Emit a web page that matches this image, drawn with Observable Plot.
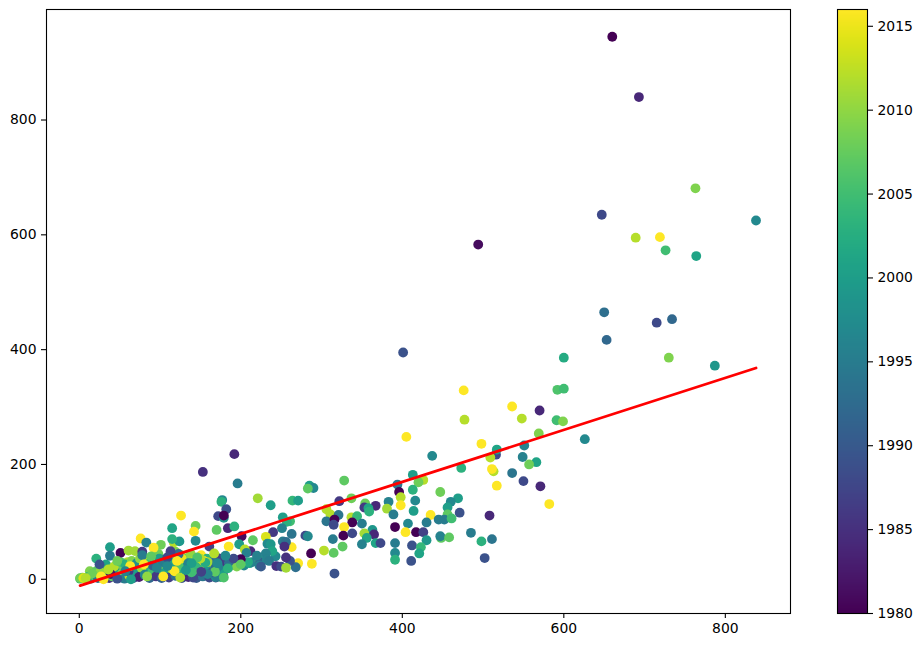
<!DOCTYPE html>
<html>
<head>
<meta charset="utf-8">
<script src="https://cdn.jsdelivr.net/npm/d3@7"></script>
<script src="https://cdn.jsdelivr.net/npm/@observablehq/plot@0.6"></script>
<style>
  html, body { margin: 0; padding: 0; background: #fff; }
  #chart { display: flex; width: 922px; height: 647px; }
</style>
</head>
<body>
<div id="chart"></div>
<script>
const xs = [
  13,17,21,24,29,32,35,40,43,46,
  48,52,55,58,60,64,67,69,73,76,
  79,82,85,88,90,93,96,98,101,104,
  107,109,112,114,116,119,121,124,126,129,
  130,133,136,138,140,143,145,148,151,152,
  155,158,160,163,166,169,172,176,178,182,
  174,188,167,193,162,175,204,169,211,214,
  177,223,165,149,224,
  4,1,7,11,14,19,23,26,31,34,
  37,41,44,49,53,56,59,62,67,71,
  74,77,81,87,91,95,99,102,105,111,
  115,119,123,127,131,135,137,141,145,149,
  153,157,161,165,169,174,177,175,171,177,
  27,33,43,51,57,65,71,83,87,99,
  103,111,117,127,135,147,91,75,61,39,
  169,209,159,164,243,195,185,175,159,123,
  660,693,763,647,838,689,719,726,764,650,
  715,734,653,730,787,600,401,494,592,600,
  476,477,536,570,548,591,599,569,405,626,
  498,551,437,549,516,517,509,566,557,473,
  513,511,536,550,571,517,582,508,413,426,
  420,394,328,396,413,398,447,469,460,416,
  383,398,381,414,389,456,471,435,456,445,
  452,461,430,407,391,404,417,426,485,448,
  447,458,430,511,498,391,412,423,421,391,
  391,411,502,306,311,322,337,354,353,367,
  358,359,321,337,344,306,316,315,338,350,
  328,327,338,363,353,365,356,350,367,373,
  314,326,315,303,287,288,316,271,268,261,
  280,283,263,263,285,290,283,264,271,261,
  221,237,177,176,182,172,179,179,144,142,
  170,184,192,252,257,251,240,231,215,201,
  198,233,237,252,256,254,144,161,185,239,
  231,212,205,207,167,220,200,191,181,256,
  232,235,223,225,244,250,256,200,184,172,
  179,168,159,151,141,139,154,156,150,146,
  139,171,192,153,196,126,115,101,76,83,
  92,117,124,115,38,51,38,21,25,61,
  69,78,78,47,36,16,1,5,8,27,
  30,47,64,84,104,118,125,89,113,109,
  121,132,63,57,80,96,109
];
const ys = [
  14,4,14,10,18,8,20,14,7,19,
  26,14,22,8,30,14,24,8,20,10,
  32,18,12,36,8,30,12,44,18,34,
  14,28,8,36,12,48,22,10,42,24,
  6,36,14,44,20,32,10,26,42,6,
  18,36,14,24,6,40,10,22,8,28,
  30,24,18,34,4,4,24,3,28,30,
  24,34,30,18,30,
  3,1,2,4,1,6,2,8,3,12,
  2,5,15,3,10,1,18,6,2,12,
  4,20,8,2,14,5,25,2,10,3,
  18,6,24,2,11,4,20,8,2,16,
  5,22,3,10,4,14,6,10,5,14,
  14,26,22,30,26,32,28,34,28,36,
  30,40,30,36,28,24,24,36,14,9,
  18,30,16,12,40,22,30,36,30,44,
  945,840,681,635,625,595,596,573,563,465,
  447,453,417,386,372,386,395,583,330,332,
  329,278,301,294,280,277,275,254,248,244,
  236,233,215,213,217,226,212,204,200,194,
  188,192,185,171,162,163,131,111,182,173,
  169,165,172,152,156,143,152,141,135,137,
  135,129,123,119,113,125,116,112,113,104,
  104,106,99,97,91,82,82,82,81,72,
  75,73,68,70,66,63,59,56,45,46,
  34,32,37,122,113,136,141,132,125,128,
  124,118,112,108,110,101,104,95,99,97,
  91,76,80,86,80,78,72,61,63,63,
  70,57,46,50,45,27,10,28,21,32,
  76,75,79,56,163,159,158,137,137,101,
  141,129,138,135,122,110,107,111,93,83,
  86,89,92,108,100,89,82,74,68,75,
  61,62,61,66,65,57,67,57,57,49,
  45,49,52,46,45,41,35,36,41,38,
  34,32,24,22,23,22,20,26,19,22,
  3,13,9,13,3,12,32,29,36,38,
  28,28,218,187,167,111,89,60,71,64,
  55,64,66,70,56,46,41,36,26,50,
  49,48,42,32,17,10,2,2,2,5,
  0,1,0,5,5,14,3,40,49,38,
  32,16,23,14,26,20,23
];
const years = [
  2009,2012,2007,2011,2008,2013,2007,2012,2004,2010,
  2011,2005,2008,2000,2012,2008,2003,2016,2013,1999,
  2007,2005,2002,2011,1994,2016,2009,2008,2006,2002,
  1998,2012,1990,2004,1997,2009,2008,2003,2012,1999,
  1986,2007,2016,2010,1993,2013,2000,2006,2016,1985,
  2009,2003,1991,2016,1984,2008,1995,2012,1988,2005,
  2001,2009,1986,2002,1990,2004,1997,1988,2001,1996,
  1986,2003,1993,2000,1990,
  2008,2005,2012,2003,1997,2006,1994,2010,1990,2002,
  1985,2007,1998,1981,2009,1995,2004,2013,1988,2000,
  1983,2011,1996,1992,2005,1986,2008,1991,2001,1987,
  2012,1993,2006,1989,2003,1984,2009,1999,1990,2007,
  1994,2014,1988,2002,1997,2010,1992,2005,1995,2000,
  2010,2001,2012,2006,2003,2009,1998,2012,2005,2000,
  1995,2008,2001,2015,1996,2004,1991,2010,1986,1982,
  1992,2002,1999,1990,1997,2009,1993,1987,2011,1992,
  1980,1984,2009,1988,1997,2012,2016,2005,2001,1993,
  1988,1992,1992,2009,1999,2002,1989,1981,2006,2005,
  2016,2012,2016,1984,2012,2005,2009,2009,2016,1997,
  2016,1996,1997,1996,1988,2001,2012,2001,2008,2003,
  2012,2016,1994,1988,1984,2016,2016,1984,2000,2012,
  2008,1994,2007,1980,2003,2012,2008,2000,1997,1997,
  1996,2016,2011,2000,1995,2000,1989,2016,2007,1995,
  1995,2005,1995,1997,1980,2016,1980,1987,1995,2007,
  1996,2007,1999,1994,2003,1995,1989,2004,2001,1997,
  2003,1989,1989,2012,2012,1986,2008,2008,1986,1984,
  2001,2003,1994,2012,2004,1994,1980,1988,1980,1995,
  2016,1980,1988,1999,2011,1984,2001,1996,2001,1988,
  1995,2007,2007,2012,1980,2016,1989,2016,1993,1989,
  1988,1997,1994,2016,2000,1997,2007,2004,2000,2005,
  2011,2000,1997,2003,1989,1988,1999,1980,2008,2016,
  2007,1984,2003,2000,2003,1996,1986,2014,2007,1981,
  2000,1997,1999,1995,1993,1985,1997,1987,2016,2001,
  1996,1984,2012,1996,2012,1996,1980,1988,1997,1985,
  1996,1995,1996,1990,1985,1988,2011,2007,2003,1996,
  2006,2007,1996,1987,1988,2005,2016,2002,2012,2006,
  2000,1997,1984,1985,1995,2016,2001,2008,2016,1996,
  2016,2012,1999,2003,2000,1980,1995,2003,1989,2011,
  2011,1986,1995,2008,2012,2008,2008,2014,2012,2016,
  2016,1989,2000,2010,2016,2016,2012,2007,1987,1988,
  2016,1999,2016,1996,2016,1996,1997
];
const fitX = [1, 838];
const fitY = [-11, 368];
const xTicks = [0, 200, 400, 600, 800];
const yTicks = [0, 200, 400, 600, 800];
const yearTicks = [1980, 1985, 1990, 1995, 2000, 2005, 2010, 2015];
const yearDomain = [1980, 2016];

const points = xs.map((x, i) => ({x, y: ys[i], year: years[i]}));
const fit = fitX.map((x, i) => ({x, y: fitY[i]}));
const font = {fontFamily: "'DejaVu Sans'", fontSize: "13.9px", color: "#000", background: "#fff", display: "block"};
const color = {type: "linear", scheme: "viridis", domain: yearDomain};

const main = Plot.plot({
  width: 815, height: 647,
  marginLeft: 46, marginRight: 25, marginTop: 9, marginBottom: 34,
  style: font,
  x: {domain: [-40.6, 880.7]},
  y: {domain: [-59.6, 992.5]},
  color,
  marks: [
    Plot.dot(points, {x: "x", y: "y", fill: "year", r: 4.9}),
    Plot.line(fit, {x: "x", y: "y", stroke: "red", strokeWidth: 2.8}),
    Plot.frame({stroke: "#000", strokeWidth: 1.1}),
    Plot.axisX({ticks: xTicks, tickSize: 5, tickPadding: 5, label: null, strokeWidth: 1.1, fill: "#000"}),
    Plot.axisY({ticks: yTicks, tickSize: 5, tickPadding: 5, label: null, strokeWidth: 1.1, fill: "#000"})
  ]
});

const bar = Plot.plot({
  width: 107, height: 647,
  marginLeft: 22, marginRight: 55, marginTop: 9, marginBottom: 34,
  style: font,
  x: {domain: [0, 1], axis: null},
  y: {domain: yearDomain},
  color,
  marks: [
    Plot.raster({fill: (x, y) => y, x1: 0, x2: 1, y1: yearDomain[0], y2: yearDomain[1], width: 1, height: 256}),
    Plot.frame({stroke: "#000", strokeWidth: 1.1}),
    Plot.axisY({anchor: "right", ticks: yearTicks, tickFormat: "d", tickSize: 5, tickPadding: 5, label: null, strokeWidth: 1.1, fill: "#000"})
  ]
});

const root = document.getElementById("chart");
root.append(main, bar);
</script>
</body>
</html>
